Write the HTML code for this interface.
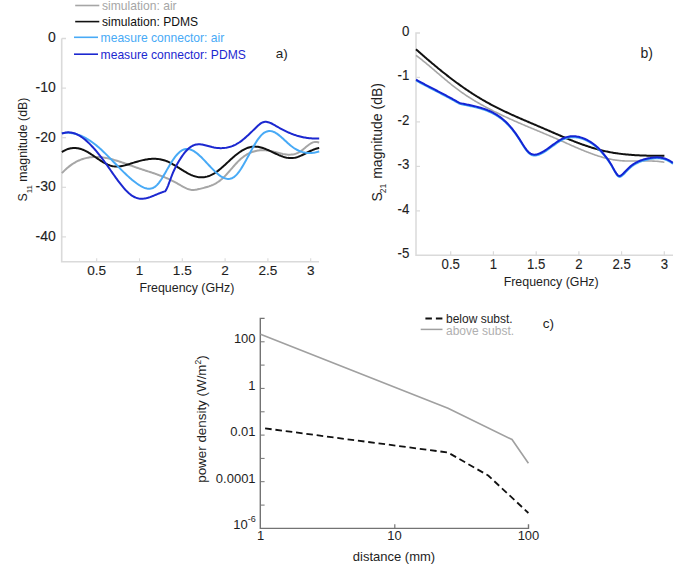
<!DOCTYPE html>
<html><head><meta charset="utf-8"><style>
html,body{margin:0;padding:0;background:#fff;}
body{width:675px;height:567px;overflow:hidden;}
svg{display:block;font-family:"Liberation Sans", sans-serif;}
</style></head><body>
<svg width="675" height="567" viewBox="0 0 675 567">
<path d="M61.7 38.5 H66 M61.7 38.5 V261.8 H319" fill="none" stroke="#dadada" stroke-width="1.6"/>
<path d="M61.7 88.1 H66" stroke="#dadada" stroke-width="1.2"/>
<path d="M61.7 137.7 H66" stroke="#dadada" stroke-width="1.2"/>
<path d="M61.7 187.3 H66" stroke="#dadada" stroke-width="1.2"/>
<path d="M61.7 236.9 H66" stroke="#dadada" stroke-width="1.2"/>
<path d="M96.7 261.8 V258.3" stroke="#dadada" stroke-width="1.1"/>
<path d="M139.5 261.8 V258.3" stroke="#dadada" stroke-width="1.1"/>
<path d="M182.3 261.8 V258.3" stroke="#dadada" stroke-width="1.1"/>
<path d="M225.1 261.8 V258.3" stroke="#dadada" stroke-width="1.1"/>
<path d="M267.9 261.8 V258.3" stroke="#dadada" stroke-width="1.1"/>
<path d="M310.7 261.8 V258.3" stroke="#dadada" stroke-width="1.1"/>
<text x="55.8" y="42.4" font-size="14" text-anchor="end" fill="#1e1e1e" stroke="#1e1e1e" stroke-width="0.12">0</text>
<text x="55.8" y="92.0" font-size="14" text-anchor="end" fill="#1e1e1e" stroke="#1e1e1e" stroke-width="0.12">-10</text>
<text x="55.8" y="141.6" font-size="14" text-anchor="end" fill="#1e1e1e" stroke="#1e1e1e" stroke-width="0.12">-20</text>
<text x="55.8" y="191.2" font-size="14" text-anchor="end" fill="#1e1e1e" stroke="#1e1e1e" stroke-width="0.12">-30</text>
<text x="55.8" y="240.8" font-size="14" text-anchor="end" fill="#1e1e1e" stroke="#1e1e1e" stroke-width="0.12">-40</text>
<text x="96.7" y="274.9" font-size="13.6" text-anchor="middle" fill="#1e1e1e" stroke="#1e1e1e" stroke-width="0.12">0.5</text>
<text x="139.5" y="274.9" font-size="13.6" text-anchor="middle" fill="#1e1e1e" stroke="#1e1e1e" stroke-width="0.12">1</text>
<text x="182.3" y="274.9" font-size="13.6" text-anchor="middle" fill="#1e1e1e" stroke="#1e1e1e" stroke-width="0.12">1.5</text>
<text x="225.1" y="274.9" font-size="13.6" text-anchor="middle" fill="#1e1e1e" stroke="#1e1e1e" stroke-width="0.12">2</text>
<text x="267.9" y="274.9" font-size="13.6" text-anchor="middle" fill="#1e1e1e" stroke="#1e1e1e" stroke-width="0.12">2.5</text>
<text x="310.7" y="274.9" font-size="13.6" text-anchor="middle" fill="#1e1e1e" stroke="#1e1e1e" stroke-width="0.12">3</text>
<text x="186.9" y="291.7" font-size="12.4" text-anchor="middle" fill="#1e1e1e" >Frequency (GHz)</text>
<text transform="translate(26.9 201.5) rotate(-90)" font-size="12.3" fill="#1e1e1e">S<tspan font-size="7.8" dy="5.0">11</tspan><tspan dy="-5.0"> magnitude (dB)</tspan></text>
<path d="M75.2 5.5 H99.3" stroke="#a6a6a6" stroke-width="1.6"/>
<text x="102.0" y="10.1" font-size="12.1" text-anchor="start" fill="#a6a6a6" >simulation: air</text>
<path d="M75.2 21.6 H99.3" stroke="#111111" stroke-width="1.6"/>
<text x="102.0" y="26.1" font-size="12.1" text-anchor="start" fill="#111111" >simulation: PDMS</text>
<path d="M74.0 37.3 H98.0" stroke="#48aaf6" stroke-width="1.6"/>
<text x="100.6" y="42.1" font-size="12.1" text-anchor="start" fill="#48aaf6" >measure connector: air</text>
<path d="M74.0 54.2 H98.0" stroke="#1c28d0" stroke-width="1.6"/>
<text x="100.6" y="58.6" font-size="12.1" text-anchor="start" fill="#1c28d0" >measure connector: PDMS</text>
<text x="275.8" y="58.2" font-size="13.5" text-anchor="start" fill="#1e1e1e" >a)</text>
<path d="M61.90 173.16 L62.90 172.11 L63.90 171.10 L64.90 170.13 L65.90 169.19 L66.90 168.30 L67.90 167.45 L68.90 166.64 L69.90 165.86 L70.90 165.12 L71.90 164.42 L72.90 163.76 L73.90 163.12 L74.90 162.53 L75.90 161.97 L76.90 161.44 L77.90 160.95 L78.90 160.48 L79.90 160.05 L80.90 159.65 L81.90 159.28 L82.90 158.95 L83.90 158.64 L84.90 158.35 L85.90 158.10 L86.90 157.88 L87.90 157.68 L88.90 157.50 L89.90 157.35 L90.90 157.23 L91.90 157.13 L92.90 157.06 L93.90 157.01 L94.90 156.98 L95.90 156.97 L96.90 156.98 L97.90 157.02 L98.90 157.07 L99.90 157.14 L100.90 157.24 L101.90 157.34 L102.90 157.47 L103.90 157.62 L104.90 157.78 L105.90 157.95 L106.90 158.14 L107.90 158.35 L108.90 158.57 L109.90 158.80 L110.90 159.04 L111.90 159.30 L112.90 159.56 L113.90 159.84 L114.90 160.13 L115.90 160.42 L116.90 160.73 L117.90 161.04 L118.90 161.36 L119.90 161.69 L120.90 162.03 L121.90 162.37 L122.90 162.71 L123.90 163.06 L124.90 163.41 L125.90 163.77 L126.90 164.13 L127.90 164.49 L128.90 164.85 L129.90 165.21 L130.90 165.57 L131.90 165.93 L132.90 166.29 L133.90 166.65 L134.90 167.00 L135.90 167.36 L136.90 167.71 L137.90 168.05 L138.90 168.39 L139.90 168.73 L140.90 169.06 L141.90 169.39 L142.90 169.72 L143.90 170.04 L144.90 170.37 L145.90 170.69 L146.90 171.01 L147.90 171.34 L148.90 171.66 L149.90 171.99 L150.90 172.32 L151.90 172.65 L152.90 172.98 L153.90 173.32 L154.90 173.66 L155.90 174.01 L156.90 174.36 L157.90 174.71 L158.90 175.07 L159.90 175.44 L160.90 175.82 L161.90 176.20 L162.90 176.59 L163.90 176.99 L164.90 177.40 L165.90 177.82 L166.90 178.24 L167.90 178.68 L168.90 179.13 L169.90 179.59 L170.90 180.07 L171.90 180.55 L172.90 181.05 L173.90 181.57 L174.90 182.09 L175.90 182.64 L176.90 183.19 L177.90 183.76 L178.90 184.34 L179.90 184.93 L180.90 185.50 L181.90 186.07 L182.90 186.63 L183.90 187.16 L184.90 187.66 L185.90 188.13 L186.90 188.56 L187.90 188.94 L188.90 189.27 L189.90 189.55 L190.90 189.75 L191.90 189.89 L192.90 189.95 L193.90 189.94 L194.90 189.86 L195.90 189.72 L196.90 189.54 L197.90 189.32 L198.90 189.09 L199.90 188.85 L200.90 188.60 L201.90 188.36 L202.90 188.11 L203.90 187.85 L204.90 187.59 L205.90 187.31 L206.90 187.02 L207.90 186.71 L208.90 186.38 L209.90 186.02 L210.90 185.64 L211.90 185.23 L212.90 184.80 L213.90 184.32 L214.90 183.81 L215.90 183.26 L216.90 182.67 L217.90 182.04 L218.90 181.35 L219.90 180.62 L220.90 179.83 L221.90 178.99 L222.90 178.09 L223.90 177.13 L224.90 176.13 L225.90 175.09 L226.90 174.01 L227.90 172.90 L228.90 171.77 L229.90 170.62 L230.90 169.46 L231.90 168.30 L232.90 167.15 L233.90 166.01 L234.90 164.88 L235.90 163.77 L236.90 162.70 L237.90 161.66 L238.90 160.66 L239.90 159.71 L240.90 158.82 L241.90 157.97 L242.90 157.18 L243.90 156.43 L244.90 155.74 L245.90 155.09 L246.90 154.48 L247.90 153.92 L248.90 153.40 L249.90 152.93 L250.90 152.50 L251.90 152.11 L252.90 151.76 L253.90 151.45 L254.90 151.17 L255.90 150.93 L256.90 150.73 L257.90 150.57 L258.90 150.43 L259.90 150.33 L260.90 150.27 L261.90 150.23 L262.90 150.22 L263.90 150.24 L264.90 150.29 L265.90 150.37 L266.90 150.47 L267.90 150.60 L268.90 150.75 L269.90 150.92 L270.90 151.12 L271.90 151.33 L272.90 151.56 L273.90 151.80 L274.90 152.05 L275.90 152.31 L276.90 152.56 L277.90 152.82 L278.90 153.07 L279.90 153.32 L280.90 153.55 L281.90 153.77 L282.90 153.98 L283.90 154.16 L284.90 154.32 L285.90 154.46 L286.90 154.56 L287.90 154.64 L288.90 154.67 L289.90 154.67 L290.90 154.62 L291.90 154.53 L292.90 154.39 L293.90 154.20 L294.90 153.95 L295.90 153.65 L296.90 153.28 L297.90 152.85 L298.90 152.34 L299.90 151.77 L300.90 151.13 L301.90 150.41 L302.90 149.63 L303.90 148.81 L304.90 147.96 L305.90 147.11 L306.90 146.27 L307.90 145.46 L308.90 144.69 L309.90 143.98 L310.90 143.35 L311.90 142.82 L312.90 142.40 L313.90 142.11 L314.90 141.96 L315.90 141.95 L316.90 142.05 L317.90 142.22 L318.90 142.43 L319.20 142.50" fill="none" stroke="#a6a6a6" stroke-width="2"/>
<path d="M61.90 152.09 L62.90 151.45 L63.90 150.86 L64.90 150.33 L65.90 149.85 L66.90 149.43 L67.90 149.07 L68.90 148.76 L69.90 148.51 L70.90 148.31 L71.90 148.16 L72.90 148.06 L73.90 148.01 L74.90 148.01 L75.90 148.06 L76.90 148.16 L77.90 148.31 L78.90 148.51 L79.90 148.75 L80.90 149.03 L81.90 149.37 L82.90 149.74 L83.90 150.16 L84.90 150.62 L85.90 151.12 L86.90 151.66 L87.90 152.23 L88.90 152.82 L89.90 153.44 L90.90 154.09 L91.90 154.74 L92.90 155.41 L93.90 156.09 L94.90 156.78 L95.90 157.46 L96.90 158.15 L97.90 158.83 L98.90 159.50 L99.90 160.15 L100.90 160.80 L101.90 161.42 L102.90 162.03 L103.90 162.61 L104.90 163.16 L105.90 163.69 L106.90 164.17 L107.90 164.63 L108.90 165.04 L109.90 165.41 L110.90 165.73 L111.90 166.00 L112.90 166.22 L113.90 166.38 L114.90 166.49 L115.90 166.55 L116.90 166.57 L117.90 166.54 L118.90 166.47 L119.90 166.36 L120.90 166.21 L121.90 166.03 L122.90 165.83 L123.90 165.60 L124.90 165.35 L125.90 165.08 L126.90 164.79 L127.90 164.49 L128.90 164.18 L129.90 163.87 L130.90 163.55 L131.90 163.23 L132.90 162.91 L133.90 162.60 L134.90 162.30 L135.90 162.00 L136.90 161.70 L137.90 161.42 L138.90 161.14 L139.90 160.88 L140.90 160.62 L141.90 160.38 L142.90 160.15 L143.90 159.94 L144.90 159.74 L145.90 159.55 L146.90 159.39 L147.90 159.24 L148.90 159.11 L149.90 159.01 L150.90 158.92 L151.90 158.86 L152.90 158.82 L153.90 158.80 L154.90 158.81 L155.90 158.84 L156.90 158.91 L157.90 159.00 L158.90 159.12 L159.90 159.27 L160.90 159.45 L161.90 159.67 L162.90 159.92 L163.90 160.20 L164.90 160.52 L165.90 160.87 L166.90 161.26 L167.90 161.69 L168.90 162.15 L169.90 162.64 L170.90 163.16 L171.90 163.70 L172.90 164.26 L173.90 164.84 L174.90 165.43 L175.90 166.04 L176.90 166.66 L177.90 167.28 L178.90 167.91 L179.90 168.54 L180.90 169.17 L181.90 169.80 L182.90 170.42 L183.90 171.03 L184.90 171.63 L185.90 172.21 L186.90 172.77 L187.90 173.32 L188.90 173.84 L189.90 174.33 L190.90 174.80 L191.90 175.24 L192.90 175.64 L193.90 176.00 L194.90 176.32 L195.90 176.60 L196.90 176.84 L197.90 177.03 L198.90 177.17 L199.90 177.26 L200.90 177.31 L201.90 177.31 L202.90 177.27 L203.90 177.18 L204.90 177.04 L205.90 176.85 L206.90 176.61 L207.90 176.33 L208.90 176.00 L209.90 175.62 L210.90 175.19 L211.90 174.72 L212.90 174.20 L213.90 173.63 L214.90 173.01 L215.90 172.34 L216.90 171.63 L217.90 170.89 L218.90 170.10 L219.90 169.29 L220.90 168.45 L221.90 167.59 L222.90 166.70 L223.90 165.80 L224.90 164.89 L225.90 163.97 L226.90 163.04 L227.90 162.11 L228.90 161.18 L229.90 160.25 L230.90 159.34 L231.90 158.44 L232.90 157.55 L233.90 156.69 L234.90 155.85 L235.90 155.03 L236.90 154.23 L237.90 153.46 L238.90 152.73 L239.90 152.02 L240.90 151.35 L241.90 150.72 L242.90 150.12 L243.90 149.56 L244.90 149.04 L245.90 148.57 L246.90 148.15 L247.90 147.77 L248.90 147.44 L249.90 147.17 L250.90 146.95 L251.90 146.78 L252.90 146.67 L253.90 146.61 L254.90 146.60 L255.90 146.64 L256.90 146.72 L257.90 146.85 L258.90 147.02 L259.90 147.23 L260.90 147.47 L261.90 147.75 L262.90 148.06 L263.90 148.40 L264.90 148.77 L265.90 149.16 L266.90 149.57 L267.90 150.00 L268.90 150.45 L269.90 150.90 L270.90 151.37 L271.90 151.84 L272.90 152.32 L273.90 152.79 L274.90 153.27 L275.90 153.73 L276.90 154.19 L277.90 154.64 L278.90 155.08 L279.90 155.49 L280.90 155.89 L281.90 156.26 L282.90 156.61 L283.90 156.93 L284.90 157.22 L285.90 157.47 L286.90 157.68 L287.90 157.86 L288.90 157.99 L289.90 158.07 L290.90 158.10 L291.90 158.08 L292.90 158.01 L293.90 157.88 L294.90 157.69 L295.90 157.46 L296.90 157.18 L297.90 156.85 L298.90 156.49 L299.90 156.09 L300.90 155.67 L301.90 155.22 L302.90 154.75 L303.90 154.27 L304.90 153.77 L305.90 153.26 L306.90 152.75 L307.90 152.25 L308.90 151.74 L309.90 151.25 L310.90 150.77 L311.90 150.31 L312.90 149.87 L313.90 149.46 L314.90 149.08 L315.90 148.73 L316.90 148.42 L317.90 148.16 L318.90 147.94 L319.20 147.88" fill="none" stroke="#111111" stroke-width="2"/>
<path d="M61.90 133.28 L62.90 133.12 L63.90 132.99 L64.90 132.89 L65.90 132.83 L66.90 132.81 L67.90 132.81 L68.90 132.85 L69.90 132.92 L70.90 133.03 L71.90 133.16 L72.90 133.33 L73.90 133.53 L74.90 133.76 L75.90 134.01 L76.90 134.30 L77.90 134.62 L78.90 134.97 L79.90 135.35 L80.90 135.75 L81.90 136.19 L82.90 136.65 L83.90 137.14 L84.90 137.66 L85.90 138.20 L86.90 138.78 L87.90 139.37 L88.90 140.00 L89.90 140.65 L90.90 141.32 L91.90 142.02 L92.90 142.74 L93.90 143.49 L94.90 144.26 L95.90 145.06 L96.90 145.88 L97.90 146.72 L98.90 147.58 L99.90 148.46 L100.90 149.36 L101.90 150.28 L102.90 151.22 L103.90 152.17 L104.90 153.13 L105.90 154.11 L106.90 155.10 L107.90 156.09 L108.90 157.10 L109.90 158.11 L110.90 159.13 L111.90 160.16 L112.90 161.18 L113.90 162.21 L114.90 163.24 L115.90 164.27 L116.90 165.30 L117.90 166.33 L118.90 167.35 L119.90 168.36 L120.90 169.37 L121.90 170.37 L122.90 171.36 L123.90 172.34 L124.90 173.31 L125.90 174.27 L126.90 175.21 L127.90 176.13 L128.90 177.04 L129.90 177.93 L130.90 178.80 L131.90 179.65 L132.90 180.47 L133.90 181.27 L134.90 182.05 L135.90 182.80 L136.90 183.53 L137.90 184.22 L138.90 184.89 L139.90 185.52 L140.90 186.12 L141.90 186.67 L142.90 187.18 L143.90 187.63 L144.90 188.01 L145.90 188.33 L146.90 188.57 L147.90 188.72 L148.90 188.78 L149.90 188.74 L150.90 188.60 L151.90 188.34 L152.90 187.96 L153.90 187.46 L154.90 186.82 L155.90 186.04 L156.90 185.11 L157.90 184.03 L158.90 182.80 L159.90 181.45 L160.90 179.99 L161.90 178.44 L162.90 176.81 L163.90 175.13 L164.90 173.40 L165.90 171.64 L166.90 169.88 L167.90 168.13 L168.90 166.40 L169.90 164.71 L170.90 163.08 L171.90 161.51 L172.90 160.01 L173.90 158.58 L174.90 157.23 L175.90 155.96 L176.90 154.78 L177.90 153.69 L178.90 152.70 L179.90 151.82 L180.90 151.05 L181.90 150.40 L182.90 149.86 L183.90 149.46 L184.90 149.17 L185.90 149.00 L186.90 148.95 L187.90 148.99 L188.90 149.14 L189.90 149.39 L190.90 149.72 L191.90 150.14 L192.90 150.64 L193.90 151.21 L194.90 151.85 L195.90 152.56 L196.90 153.32 L197.90 154.14 L198.90 155.00 L199.90 155.91 L200.90 156.85 L201.90 157.83 L202.90 158.84 L203.90 159.87 L204.90 160.92 L205.90 161.99 L206.90 163.06 L207.90 164.14 L208.90 165.21 L209.90 166.28 L210.90 167.34 L211.90 168.39 L212.90 169.41 L213.90 170.41 L214.90 171.38 L215.90 172.32 L216.90 173.21 L217.90 174.07 L218.90 174.87 L219.90 175.62 L220.90 176.30 L221.90 176.92 L222.90 177.47 L223.90 177.95 L224.90 178.33 L225.90 178.63 L226.90 178.83 L227.90 178.94 L228.90 178.93 L229.90 178.81 L230.90 178.57 L231.90 178.21 L232.90 177.72 L233.90 177.09 L234.90 176.32 L235.90 175.40 L236.90 174.34 L237.90 173.17 L238.90 171.87 L239.90 170.47 L240.90 168.98 L241.90 167.40 L242.90 165.75 L243.90 164.04 L244.90 162.28 L245.90 160.47 L246.90 158.64 L247.90 156.78 L248.90 154.92 L249.90 153.06 L250.90 151.20 L251.90 149.37 L252.90 147.57 L253.90 145.82 L254.90 144.12 L255.90 142.48 L256.90 140.92 L257.90 139.44 L258.90 138.06 L259.90 136.79 L260.90 135.63 L261.90 134.60 L262.90 133.70 L263.90 132.94 L264.90 132.32 L265.90 131.82 L266.90 131.45 L267.90 131.19 L268.90 131.06 L269.90 131.03 L270.90 131.12 L271.90 131.31 L272.90 131.60 L273.90 131.99 L274.90 132.47 L275.90 133.03 L276.90 133.66 L277.90 134.36 L278.90 135.11 L279.90 135.92 L280.90 136.77 L281.90 137.65 L282.90 138.55 L283.90 139.47 L284.90 140.41 L285.90 141.34 L286.90 142.27 L287.90 143.19 L288.90 144.08 L289.90 144.94 L290.90 145.77 L291.90 146.55 L292.90 147.28 L293.90 147.97 L294.90 148.61 L295.90 149.20 L296.90 149.75 L297.90 150.26 L298.90 150.72 L299.90 151.14 L300.90 151.51 L301.90 151.85 L302.90 152.14 L303.90 152.38 L304.90 152.59 L305.90 152.76 L306.90 152.89 L307.90 152.98 L308.90 153.02 L309.90 153.03 L310.90 153.01 L311.90 152.94 L312.90 152.84 L313.90 152.70 L314.90 152.52 L315.90 152.31 L316.90 152.07 L317.90 151.79 L318.90 151.47 L319.20 151.37" fill="none" stroke="#48aaf6" stroke-width="2"/>
<path d="M61.90 133.70 L62.90 133.26 L63.90 132.94 L64.90 132.69 L65.90 132.51 L66.90 132.39 L67.90 132.33 L68.90 132.33 L69.90 132.39 L70.90 132.50 L71.90 132.68 L72.90 132.91 L73.90 133.19 L74.90 133.53 L75.90 133.91 L76.90 134.35 L77.90 134.84 L78.90 135.38 L79.90 135.96 L80.90 136.59 L81.90 137.27 L82.90 137.98 L83.90 138.74 L84.90 139.54 L85.90 140.38 L86.90 141.26 L87.90 142.18 L88.90 143.13 L89.90 144.12 L90.90 145.14 L91.90 146.19 L92.90 147.27 L93.90 148.39 L94.90 149.53 L95.90 150.70 L96.90 151.90 L97.90 153.12 L98.90 154.36 L99.90 155.63 L100.90 156.92 L101.90 158.23 L102.90 159.56 L103.90 160.91 L104.90 162.27 L105.90 163.65 L106.90 165.04 L107.90 166.45 L108.90 167.86 L109.90 169.29 L110.90 170.72 L111.90 172.15 L112.90 173.57 L113.90 174.99 L114.90 176.41 L115.90 177.80 L116.90 179.19 L117.90 180.55 L118.90 181.89 L119.90 183.20 L120.90 184.48 L121.90 185.73 L122.90 186.94 L123.90 188.11 L124.90 189.24 L125.90 190.31 L126.90 191.34 L127.90 192.31 L128.90 193.22 L129.90 194.07 L130.90 194.85 L131.90 195.56 L132.90 196.20 L133.90 196.76 L134.90 197.26 L135.90 197.68 L136.90 198.02 L137.90 198.30 L138.90 198.50 L139.90 198.64 L140.90 198.71 L141.90 198.72 L142.90 198.68 L143.90 198.58 L144.90 198.44 L145.90 198.25 L146.90 198.02 L147.90 197.76 L148.90 197.46 L149.90 197.14 L150.90 196.79 L151.90 196.41 L152.90 196.02 L153.90 195.62 L154.90 195.20 L155.90 194.78 L156.90 194.36 L157.90 193.94 L158.90 193.53 L159.90 193.12 L160.90 192.73 L161.90 192.35 L162.90 192.00 L163.90 191.66 L164.90 191.36 L165.10 191.30 L166.10 189.94 L167.10 187.94 L168.10 185.58 L169.10 182.98 L170.10 180.26 L171.10 177.52 L172.10 174.89 L173.10 172.45 L174.10 170.22 L175.10 168.14 L176.10 166.19 L177.10 164.33 L178.10 162.55 L179.10 160.84 L180.10 159.20 L181.10 157.64 L182.10 156.15 L183.10 154.75 L184.10 153.43 L185.10 152.19 L186.10 151.03 L187.10 149.97 L188.10 148.99 L189.10 148.10 L190.10 147.31 L191.10 146.61 L192.10 146.00 L193.10 145.49 L194.10 145.08 L195.10 144.77 L196.10 144.53 L197.10 144.38 L198.10 144.29 L199.10 144.27 L200.10 144.32 L201.10 144.41 L202.10 144.55 L203.10 144.73 L204.10 144.94 L205.10 145.18 L206.10 145.44 L207.10 145.71 L208.10 146.00 L209.10 146.28 L210.10 146.55 L211.10 146.82 L212.10 147.07 L213.10 147.29 L214.10 147.49 L215.10 147.66 L216.10 147.81 L217.10 147.93 L218.10 148.03 L219.10 148.09 L220.10 148.13 L221.10 148.14 L222.10 148.12 L223.10 148.07 L224.10 147.99 L225.10 147.87 L226.10 147.72 L227.10 147.54 L228.10 147.33 L229.10 147.08 L230.10 146.79 L231.10 146.47 L232.10 146.11 L233.10 145.71 L234.10 145.28 L235.10 144.80 L236.10 144.29 L237.10 143.73 L238.10 143.14 L239.10 142.50 L240.10 141.82 L241.10 141.10 L242.10 140.34 L243.10 139.54 L244.10 138.72 L245.10 137.87 L246.10 136.99 L247.10 136.09 L248.10 135.17 L249.10 134.23 L250.10 133.28 L251.10 132.32 L252.10 131.35 L253.10 130.38 L254.10 129.41 L255.10 128.44 L256.10 127.47 L257.10 126.52 L258.10 125.58 L259.10 124.70 L260.10 123.90 L261.10 123.20 L262.10 122.64 L263.10 122.24 L264.10 121.97 L265.10 121.85 L266.10 121.85 L267.10 121.95 L268.10 122.16 L269.10 122.46 L270.10 122.83 L271.10 123.27 L272.10 123.76 L273.10 124.30 L274.10 124.86 L275.10 125.44 L276.10 126.03 L277.10 126.62 L278.10 127.19 L279.10 127.75 L280.10 128.31 L281.10 128.85 L282.10 129.38 L283.10 129.90 L284.10 130.41 L285.10 130.90 L286.10 131.38 L287.10 131.85 L288.10 132.30 L289.10 132.74 L290.10 133.17 L291.10 133.58 L292.10 133.97 L293.10 134.35 L294.10 134.72 L295.10 135.06 L296.10 135.39 L297.10 135.71 L298.10 136.00 L299.10 136.28 L300.10 136.54 L301.10 136.79 L302.10 137.02 L303.10 137.23 L304.10 137.42 L305.10 137.60 L306.10 137.76 L307.10 137.91 L308.10 138.04 L309.10 138.15 L310.10 138.24 L311.10 138.32 L312.10 138.39 L313.10 138.44 L314.10 138.47 L315.10 138.49 L316.10 138.49 L317.10 138.48 L318.10 138.45 L319.10 138.40 L319.20 138.40" fill="none" stroke="#1c28d0" stroke-width="2"/>
<path d="M420 32.9 H416 V255.3 H673" fill="none" stroke="#dadada" stroke-width="1.5"/>
<path d="M416 77.4 H420" stroke="#dadada" stroke-width="1.2"/>
<path d="M416 121.9 H420" stroke="#dadada" stroke-width="1.2"/>
<path d="M416 166.4 H420" stroke="#dadada" stroke-width="1.2"/>
<path d="M416 210.9 H420" stroke="#dadada" stroke-width="1.2"/>
<path d="M450.7 255.3 V251.3" stroke="#dadada" stroke-width="1.2"/>
<path d="M493.4 255.3 V251.3" stroke="#dadada" stroke-width="1.2"/>
<path d="M536.2 255.3 V251.3" stroke="#dadada" stroke-width="1.2"/>
<path d="M578.9 255.3 V251.3" stroke="#dadada" stroke-width="1.2"/>
<path d="M621.6 255.3 V251.3" stroke="#dadada" stroke-width="1.2"/>
<path d="M664.3 255.3 V251.3" stroke="#dadada" stroke-width="1.2"/>
<text transform="translate(409.40 35.90) scale(1 1.120)" font-size="13.3" text-anchor="end" fill="#1e1e1e" stroke="#1e1e1e" stroke-width="0.1">0</text>
<text transform="translate(409.40 80.40) scale(1 1.120)" font-size="13.3" text-anchor="end" fill="#1e1e1e" stroke="#1e1e1e" stroke-width="0.1">-1</text>
<text transform="translate(409.40 124.90) scale(1 1.120)" font-size="13.3" text-anchor="end" fill="#1e1e1e" stroke="#1e1e1e" stroke-width="0.1">-2</text>
<text transform="translate(409.40 169.40) scale(1 1.120)" font-size="13.3" text-anchor="end" fill="#1e1e1e" stroke="#1e1e1e" stroke-width="0.1">-3</text>
<text transform="translate(409.40 213.90) scale(1 1.120)" font-size="13.3" text-anchor="end" fill="#1e1e1e" stroke="#1e1e1e" stroke-width="0.1">-4</text>
<text transform="translate(409.40 258.40) scale(1 1.120)" font-size="13.3" text-anchor="end" fill="#1e1e1e" stroke="#1e1e1e" stroke-width="0.1">-5</text>
<text transform="translate(450.72 269.00) scale(1 1.140)" font-size="13.2" text-anchor="middle" fill="#1e1e1e" stroke="#1e1e1e" stroke-width="0.1">0.5</text>
<text transform="translate(493.44 269.00) scale(1 1.140)" font-size="13.2" text-anchor="middle" fill="#1e1e1e" stroke="#1e1e1e" stroke-width="0.1">1</text>
<text transform="translate(536.16 269.00) scale(1 1.140)" font-size="13.2" text-anchor="middle" fill="#1e1e1e" stroke="#1e1e1e" stroke-width="0.1">1.5</text>
<text transform="translate(578.88 269.00) scale(1 1.140)" font-size="13.2" text-anchor="middle" fill="#1e1e1e" stroke="#1e1e1e" stroke-width="0.1">2</text>
<text transform="translate(621.60 269.00) scale(1 1.140)" font-size="13.2" text-anchor="middle" fill="#1e1e1e" stroke="#1e1e1e" stroke-width="0.1">2.5</text>
<text transform="translate(664.32 269.00) scale(1 1.140)" font-size="13.2" text-anchor="middle" fill="#1e1e1e" stroke="#1e1e1e" stroke-width="0.1">3</text>
<text x="551.2" y="286.1" font-size="12.4" text-anchor="middle" fill="#1e1e1e" >Frequency (GHz)</text>
<text transform="translate(382.2 201.5) rotate(-90)" font-size="14" fill="#1e1e1e">S<tspan font-size="8.5" dy="4" dx="-1">21</tspan><tspan dy="-4" dx="1"> magnitude (dB)</tspan></text>
<text x="640.5" y="58.2" font-size="14" text-anchor="start" fill="#1e1e1e" >b)</text>
<path d="M416.00 55.32 L417.00 56.07 L418.00 56.84 L419.00 57.61 L420.00 58.39 L421.00 59.18 L422.00 59.97 L423.00 60.78 L424.00 61.59 L425.00 62.41 L426.00 63.23 L427.00 64.06 L428.00 64.89 L429.00 65.73 L430.00 66.57 L431.00 67.41 L432.00 68.26 L433.00 69.11 L434.00 69.96 L435.00 70.82 L436.00 71.67 L437.00 72.52 L438.00 73.38 L439.00 74.23 L440.00 75.08 L441.00 75.93 L442.00 76.78 L443.00 77.63 L444.00 78.47 L445.00 79.31 L446.00 80.15 L447.00 80.98 L448.00 81.80 L449.00 82.62 L450.00 83.44 L451.00 84.25 L452.00 85.05 L453.00 85.84 L454.00 86.62 L455.00 87.40 L456.00 88.17 L457.00 88.93 L458.00 89.67 L459.00 90.41 L460.00 91.14 L461.00 91.86 L462.00 92.57 L463.00 93.26 L464.00 93.95 L465.00 94.63 L466.00 95.31 L467.00 95.97 L468.00 96.62 L469.00 97.27 L470.00 97.91 L471.00 98.54 L472.00 99.16 L473.00 99.78 L474.00 100.38 L475.00 100.98 L476.00 101.58 L477.00 102.17 L478.00 102.75 L479.00 103.32 L480.00 103.89 L481.00 104.46 L482.00 105.02 L483.00 105.57 L484.00 106.12 L485.00 106.66 L486.00 107.20 L487.00 107.73 L488.00 108.26 L489.00 108.79 L490.00 109.31 L491.00 109.82 L492.00 110.33 L493.00 110.84 L494.00 111.35 L495.00 111.85 L496.00 112.34 L497.00 112.83 L498.00 113.32 L499.00 113.81 L500.00 114.29 L501.00 114.77 L502.00 115.24 L503.00 115.71 L504.00 116.18 L505.00 116.65 L506.00 117.11 L507.00 117.57 L508.00 118.03 L509.00 118.48 L510.00 118.94 L511.00 119.39 L512.00 119.83 L513.00 120.28 L514.00 120.72 L515.00 121.16 L516.00 121.60 L517.00 122.04 L518.00 122.47 L519.00 122.91 L520.00 123.34 L521.00 123.77 L522.00 124.20 L523.00 124.63 L524.00 125.05 L525.00 125.48 L526.00 125.90 L527.00 126.32 L528.00 126.75 L529.00 127.17 L530.00 127.59 L531.00 128.01 L532.00 128.43 L533.00 128.85 L534.00 129.26 L535.00 129.68 L536.00 130.10 L537.00 130.52 L538.00 130.94 L539.00 131.35 L540.00 131.77 L541.00 132.19 L542.00 132.61 L543.00 133.03 L544.00 133.45 L545.00 133.87 L546.00 134.29 L547.00 134.71 L548.00 135.13 L549.00 135.56 L550.00 135.98 L551.00 136.41 L552.00 136.84 L553.00 137.27 L554.00 137.70 L555.00 138.13 L556.00 138.56 L557.00 139.00 L558.00 139.43 L559.00 139.87 L560.00 140.31 L561.00 140.76 L562.00 141.20 L563.00 141.64 L564.00 142.09 L565.00 142.53 L566.00 142.98 L567.00 143.43 L568.00 143.87 L569.00 144.32 L570.00 144.76 L571.00 145.20 L572.00 145.65 L573.00 146.09 L574.00 146.53 L575.00 146.96 L576.00 147.40 L577.00 147.83 L578.00 148.26 L579.00 148.69 L580.00 149.11 L581.00 149.53 L582.00 149.95 L583.00 150.36 L584.00 150.77 L585.00 151.17 L586.00 151.57 L587.00 151.96 L588.00 152.35 L589.00 152.74 L590.00 153.11 L591.00 153.49 L592.00 153.85 L593.00 154.21 L594.00 154.56 L595.00 154.91 L596.00 155.25 L597.00 155.58 L598.00 155.91 L599.00 156.22 L600.00 156.53 L601.00 156.83 L602.00 157.12 L603.00 157.40 L604.00 157.67 L605.00 157.94 L606.00 158.19 L607.00 158.44 L608.00 158.67 L609.00 158.89 L610.00 159.11 L611.00 159.31 L612.00 159.50 L613.00 159.68 L614.00 159.85 L615.00 160.01 L616.00 160.15 L617.00 160.28 L618.00 160.40 L619.00 160.51 L620.00 160.61 L621.00 160.69 L622.00 160.77 L623.00 160.83 L624.00 160.89 L625.00 160.94 L626.00 160.97 L627.00 161.01 L628.00 161.03 L629.00 161.05 L630.00 161.06 L631.00 161.07 L632.00 161.07 L633.00 161.07 L634.00 161.06 L635.00 161.06 L636.00 161.05 L637.00 161.03 L638.00 161.02 L639.00 161.01 L640.00 160.99 L641.00 160.98 L642.00 160.97 L643.00 160.96 L644.00 160.95 L645.00 160.95 L646.00 160.94 L647.00 160.95 L648.00 160.95 L649.00 160.97 L650.00 160.98 L651.00 161.01 L652.00 161.04 L653.00 161.08 L654.00 161.13 L655.00 161.18 L656.00 161.25 L657.00 161.32 L658.00 161.41 L659.00 161.50 L660.00 161.61 L661.00 161.73 L662.00 161.86 L663.00 162.01 L664.00 162.17 L664.40 162.24" fill="none" stroke="#a6a6a6" stroke-width="1.6"/>
<path d="M416.00 49.28 L417.00 50.17 L418.00 51.06 L419.00 51.95 L420.00 52.83 L421.00 53.71 L422.00 54.58 L423.00 55.46 L424.00 56.33 L425.00 57.19 L426.00 58.06 L427.00 58.92 L428.00 59.78 L429.00 60.63 L430.00 61.48 L431.00 62.33 L432.00 63.17 L433.00 64.01 L434.00 64.85 L435.00 65.68 L436.00 66.51 L437.00 67.34 L438.00 68.16 L439.00 68.98 L440.00 69.79 L441.00 70.60 L442.00 71.41 L443.00 72.21 L444.00 73.00 L445.00 73.80 L446.00 74.58 L447.00 75.37 L448.00 76.15 L449.00 76.92 L450.00 77.69 L451.00 78.46 L452.00 79.22 L453.00 79.97 L454.00 80.72 L455.00 81.47 L456.00 82.21 L457.00 82.95 L458.00 83.68 L459.00 84.40 L460.00 85.12 L461.00 85.84 L462.00 86.55 L463.00 87.25 L464.00 87.95 L465.00 88.64 L466.00 89.33 L467.00 90.01 L468.00 90.68 L469.00 91.35 L470.00 92.02 L471.00 92.68 L472.00 93.33 L473.00 93.98 L474.00 94.62 L475.00 95.25 L476.00 95.88 L477.00 96.50 L478.00 97.11 L479.00 97.72 L480.00 98.32 L481.00 98.92 L482.00 99.51 L483.00 100.09 L484.00 100.67 L485.00 101.24 L486.00 101.80 L487.00 102.36 L488.00 102.91 L489.00 103.46 L490.00 104.00 L491.00 104.54 L492.00 105.07 L493.00 105.59 L494.00 106.12 L495.00 106.63 L496.00 107.14 L497.00 107.65 L498.00 108.15 L499.00 108.65 L500.00 109.15 L501.00 109.64 L502.00 110.12 L503.00 110.61 L504.00 111.08 L505.00 111.56 L506.00 112.03 L507.00 112.50 L508.00 112.96 L509.00 113.43 L510.00 113.89 L511.00 114.34 L512.00 114.80 L513.00 115.25 L514.00 115.70 L515.00 116.14 L516.00 116.59 L517.00 117.03 L518.00 117.47 L519.00 117.91 L520.00 118.34 L521.00 118.78 L522.00 119.21 L523.00 119.64 L524.00 120.07 L525.00 120.50 L526.00 120.93 L527.00 121.36 L528.00 121.79 L529.00 122.21 L530.00 122.64 L531.00 123.07 L532.00 123.49 L533.00 123.92 L534.00 124.34 L535.00 124.77 L536.00 125.19 L537.00 125.62 L538.00 126.05 L539.00 126.47 L540.00 126.90 L541.00 127.33 L542.00 127.76 L543.00 128.19 L544.00 128.63 L545.00 129.06 L546.00 129.49 L547.00 129.93 L548.00 130.36 L549.00 130.79 L550.00 131.23 L551.00 131.66 L552.00 132.10 L553.00 132.53 L554.00 132.96 L555.00 133.40 L556.00 133.83 L557.00 134.26 L558.00 134.69 L559.00 135.12 L560.00 135.54 L561.00 135.97 L562.00 136.39 L563.00 136.82 L564.00 137.24 L565.00 137.66 L566.00 138.07 L567.00 138.49 L568.00 138.90 L569.00 139.31 L570.00 139.71 L571.00 140.12 L572.00 140.52 L573.00 140.91 L574.00 141.31 L575.00 141.70 L576.00 142.09 L577.00 142.47 L578.00 142.85 L579.00 143.23 L580.00 143.60 L581.00 143.96 L582.00 144.33 L583.00 144.69 L584.00 145.04 L585.00 145.39 L586.00 145.73 L587.00 146.07 L588.00 146.41 L589.00 146.74 L590.00 147.06 L591.00 147.38 L592.00 147.69 L593.00 148.00 L594.00 148.30 L595.00 148.59 L596.00 148.88 L597.00 149.16 L598.00 149.44 L599.00 149.70 L600.00 149.96 L601.00 150.22 L602.00 150.47 L603.00 150.71 L604.00 150.94 L605.00 151.17 L606.00 151.38 L607.00 151.60 L608.00 151.80 L609.00 152.00 L610.00 152.19 L611.00 152.37 L612.00 152.55 L613.00 152.72 L614.00 152.89 L615.00 153.05 L616.00 153.20 L617.00 153.35 L618.00 153.49 L619.00 153.63 L620.00 153.76 L621.00 153.88 L622.00 154.00 L623.00 154.12 L624.00 154.23 L625.00 154.33 L626.00 154.43 L627.00 154.53 L628.00 154.62 L629.00 154.71 L630.00 154.79 L631.00 154.87 L632.00 154.94 L633.00 155.01 L634.00 155.08 L635.00 155.14 L636.00 155.20 L637.00 155.25 L638.00 155.30 L639.00 155.35 L640.00 155.40 L641.00 155.44 L642.00 155.48 L643.00 155.51 L644.00 155.55 L645.00 155.58 L646.00 155.60 L647.00 155.63 L648.00 155.65 L649.00 155.67 L650.00 155.69 L651.00 155.71 L652.00 155.73 L653.00 155.74 L654.00 155.75 L655.00 155.76 L656.00 155.77 L657.00 155.78 L658.00 155.79 L659.00 155.80 L660.00 155.80 L661.00 155.81 L662.00 155.81 L663.00 155.81 L664.00 155.82 L664.40 155.82" fill="none" stroke="#111111" stroke-width="2"/>
<path d="M416.00 79.70 L417.00 80.24 L418.00 80.78 L419.00 81.32 L420.00 81.86 L421.00 82.39 L422.00 82.92 L423.00 83.45 L424.00 83.98 L425.00 84.51 L426.00 85.03 L427.00 85.56 L428.00 86.08 L429.00 86.60 L430.00 87.12 L431.00 87.64 L432.00 88.16 L433.00 88.68 L434.00 89.20 L435.00 89.72 L436.00 90.24 L437.00 90.76 L438.00 91.28 L439.00 91.80 L440.00 92.32 L441.00 92.84 L442.00 93.37 L443.00 93.89 L444.00 94.42 L445.00 94.95 L446.00 95.48 L447.00 96.02 L448.00 96.55 L449.00 97.09 L450.00 97.63 L451.00 98.18 L452.00 98.73 L453.00 99.28 L454.00 99.83 L455.00 100.39 L456.00 100.95 L457.00 101.52 L458.00 102.09 L459.00 102.66 L459.50 102.90 L460.50 103.19 L461.50 103.41 L462.50 103.62 L463.50 103.83 L464.50 104.03 L465.50 104.24 L466.50 104.44 L467.50 104.65 L468.50 104.85 L469.50 105.06 L470.50 105.27 L471.50 105.49 L472.50 105.71 L473.50 105.93 L474.50 106.16 L475.50 106.40 L476.50 106.65 L477.50 106.91 L478.50 107.17 L479.50 107.45 L480.50 107.74 L481.50 108.04 L482.50 108.36 L483.50 108.68 L484.50 109.03 L485.50 109.39 L486.50 109.77 L487.50 110.17 L488.50 110.58 L489.50 111.02 L490.50 111.47 L491.50 111.95 L492.50 112.45 L493.50 112.97 L494.50 113.52 L495.50 114.09 L496.50 114.69 L497.50 115.31 L498.50 115.97 L499.50 116.66 L500.50 117.38 L501.50 118.14 L502.50 118.93 L503.50 119.77 L504.50 120.64 L505.50 121.56 L506.50 122.52 L507.50 123.52 L508.50 124.57 L509.50 125.67 L510.50 126.81 L511.50 128.00 L512.50 129.23 L513.50 130.51 L514.50 131.83 L515.50 133.20 L516.50 134.62 L517.50 136.08 L518.50 137.58 L519.50 139.14 L520.50 140.73 L521.50 142.34 L522.50 143.94 L523.50 145.52 L524.50 147.03 L525.50 148.47 L526.50 149.80 L527.50 150.99 L528.50 152.04 L529.50 152.90 L530.50 153.57 L531.50 154.06 L532.50 154.40 L533.50 154.58 L534.50 154.64 L535.50 154.57 L536.50 154.41 L537.50 154.15 L538.50 153.82 L539.50 153.43 L540.50 152.99 L541.50 152.50 L542.50 151.96 L543.50 151.39 L544.50 150.78 L545.50 150.14 L546.50 149.47 L547.50 148.78 L548.50 148.08 L549.50 147.35 L550.50 146.62 L551.50 145.89 L552.50 145.15 L553.50 144.42 L554.50 143.69 L555.50 142.98 L556.50 142.28 L557.50 141.61 L558.50 140.96 L559.50 140.33 L560.50 139.75 L561.50 139.20 L562.50 138.69 L563.50 138.23 L564.50 137.82 L565.50 137.46 L566.50 137.14 L567.50 136.88 L568.50 136.66 L569.50 136.49 L570.50 136.36 L571.50 136.27 L572.50 136.23 L573.50 136.24 L574.50 136.28 L575.50 136.36 L576.50 136.49 L577.50 136.65 L578.50 136.85 L579.50 137.08 L580.50 137.36 L581.50 137.66 L582.50 138.01 L583.50 138.38 L584.50 138.79 L585.50 139.23 L586.50 139.70 L587.50 140.21 L588.50 140.75 L589.50 141.32 L590.50 141.93 L591.50 142.58 L592.50 143.27 L593.50 144.00 L594.50 144.78 L595.50 145.59 L596.50 146.45 L597.50 147.36 L598.50 148.31 L599.50 149.31 L600.50 150.35 L601.50 151.45 L602.50 152.60 L603.50 153.79 L604.50 155.03 L605.50 156.30 L606.50 157.61 L607.50 158.96 L608.50 160.37 L609.50 161.86 L610.50 163.43 L611.50 165.11 L612.50 166.88 L613.50 168.68 L614.50 170.46 L615.50 172.14 L616.50 173.68 L617.50 174.93 L618.50 175.75 L619.50 176.00 L620.50 175.72 L621.50 175.07 L622.50 174.22 L623.50 173.28 L624.50 172.28 L625.50 171.25 L626.50 170.21 L627.50 169.18 L628.50 168.19 L629.50 167.25 L630.50 166.38 L631.50 165.57 L632.50 164.82 L633.50 164.12 L634.50 163.48 L635.50 162.88 L636.50 162.34 L637.50 161.84 L638.50 161.37 L639.50 160.95 L640.50 160.56 L641.50 160.20 L642.50 159.87 L643.50 159.57 L644.50 159.29 L645.50 159.03 L646.50 158.78 L647.50 158.55 L648.50 158.33 L649.50 158.13 L650.50 157.95 L651.50 157.79 L652.50 157.65 L653.50 157.54 L654.50 157.45 L655.50 157.39 L656.50 157.36 L657.50 157.36 L658.50 157.40 L659.50 157.47 L660.50 157.59 L661.50 157.74 L662.50 157.94 L663.50 158.18 L664.50 158.46 L665.50 158.80 L666.50 159.18 L667.50 159.62 L668.50 160.11 L669.50 160.66 L670.50 161.27 L671.50 161.94 L672.50 162.67 L672.80 162.80" fill="none" stroke="#48aaf6" stroke-width="2" transform="translate(0.2 0.9)"/>
<path d="M416.00 79.70 L417.00 80.24 L418.00 80.78 L419.00 81.32 L420.00 81.86 L421.00 82.39 L422.00 82.92 L423.00 83.45 L424.00 83.98 L425.00 84.51 L426.00 85.03 L427.00 85.56 L428.00 86.08 L429.00 86.60 L430.00 87.12 L431.00 87.64 L432.00 88.16 L433.00 88.68 L434.00 89.20 L435.00 89.72 L436.00 90.24 L437.00 90.76 L438.00 91.28 L439.00 91.80 L440.00 92.32 L441.00 92.84 L442.00 93.37 L443.00 93.89 L444.00 94.42 L445.00 94.95 L446.00 95.48 L447.00 96.02 L448.00 96.55 L449.00 97.09 L450.00 97.63 L451.00 98.18 L452.00 98.73 L453.00 99.28 L454.00 99.83 L455.00 100.39 L456.00 100.95 L457.00 101.52 L458.00 102.09 L459.00 102.66 L459.50 102.90 L460.50 103.19 L461.50 103.41 L462.50 103.62 L463.50 103.83 L464.50 104.03 L465.50 104.24 L466.50 104.44 L467.50 104.65 L468.50 104.85 L469.50 105.06 L470.50 105.27 L471.50 105.49 L472.50 105.71 L473.50 105.93 L474.50 106.16 L475.50 106.40 L476.50 106.65 L477.50 106.91 L478.50 107.17 L479.50 107.45 L480.50 107.74 L481.50 108.04 L482.50 108.36 L483.50 108.68 L484.50 109.03 L485.50 109.39 L486.50 109.77 L487.50 110.17 L488.50 110.58 L489.50 111.02 L490.50 111.47 L491.50 111.95 L492.50 112.45 L493.50 112.97 L494.50 113.52 L495.50 114.09 L496.50 114.69 L497.50 115.31 L498.50 115.97 L499.50 116.66 L500.50 117.38 L501.50 118.14 L502.50 118.93 L503.50 119.77 L504.50 120.64 L505.50 121.56 L506.50 122.52 L507.50 123.52 L508.50 124.57 L509.50 125.67 L510.50 126.81 L511.50 128.00 L512.50 129.23 L513.50 130.51 L514.50 131.83 L515.50 133.20 L516.50 134.62 L517.50 136.08 L518.50 137.58 L519.50 139.14 L520.50 140.73 L521.50 142.34 L522.50 143.94 L523.50 145.52 L524.50 147.03 L525.50 148.47 L526.50 149.80 L527.50 150.99 L528.50 152.04 L529.50 152.90 L530.50 153.57 L531.50 154.06 L532.50 154.40 L533.50 154.58 L534.50 154.64 L535.50 154.57 L536.50 154.41 L537.50 154.15 L538.50 153.82 L539.50 153.43 L540.50 152.99 L541.50 152.50 L542.50 151.96 L543.50 151.39 L544.50 150.78 L545.50 150.14 L546.50 149.47 L547.50 148.78 L548.50 148.08 L549.50 147.35 L550.50 146.62 L551.50 145.89 L552.50 145.15 L553.50 144.42 L554.50 143.69 L555.50 142.98 L556.50 142.28 L557.50 141.61 L558.50 140.96 L559.50 140.33 L560.50 139.75 L561.50 139.20 L562.50 138.69 L563.50 138.23 L564.50 137.82 L565.50 137.46 L566.50 137.14 L567.50 136.88 L568.50 136.66 L569.50 136.49 L570.50 136.36 L571.50 136.27 L572.50 136.23 L573.50 136.24 L574.50 136.28 L575.50 136.36 L576.50 136.49 L577.50 136.65 L578.50 136.85 L579.50 137.08 L580.50 137.36 L581.50 137.66 L582.50 138.01 L583.50 138.38 L584.50 138.79 L585.50 139.23 L586.50 139.70 L587.50 140.21 L588.50 140.75 L589.50 141.32 L590.50 141.93 L591.50 142.58 L592.50 143.27 L593.50 144.00 L594.50 144.78 L595.50 145.59 L596.50 146.45 L597.50 147.36 L598.50 148.31 L599.50 149.31 L600.50 150.35 L601.50 151.45 L602.50 152.60 L603.50 153.79 L604.50 155.03 L605.50 156.30 L606.50 157.61 L607.50 158.96 L608.50 160.37 L609.50 161.86 L610.50 163.43 L611.50 165.11 L612.50 166.88 L613.50 168.68 L614.50 170.46 L615.50 172.14 L616.50 173.68 L617.50 174.93 L618.50 175.75 L619.50 176.00 L620.50 175.72 L621.50 175.07 L622.50 174.22 L623.50 173.28 L624.50 172.28 L625.50 171.25 L626.50 170.21 L627.50 169.18 L628.50 168.19 L629.50 167.25 L630.50 166.38 L631.50 165.57 L632.50 164.82 L633.50 164.12 L634.50 163.48 L635.50 162.88 L636.50 162.34 L637.50 161.84 L638.50 161.37 L639.50 160.95 L640.50 160.56 L641.50 160.20 L642.50 159.87 L643.50 159.57 L644.50 159.29 L645.50 159.03 L646.50 158.78 L647.50 158.55 L648.50 158.33 L649.50 158.13 L650.50 157.95 L651.50 157.79 L652.50 157.65 L653.50 157.54 L654.50 157.45 L655.50 157.39 L656.50 157.36 L657.50 157.36 L658.50 157.40 L659.50 157.47 L660.50 157.59 L661.50 157.74 L662.50 157.94 L663.50 158.18 L664.50 158.46 L665.50 158.80 L666.50 159.18 L667.50 159.62 L668.50 160.11 L669.50 160.66 L670.50 161.27 L671.50 161.94 L672.50 162.67 L672.80 162.80" fill="none" stroke="#1424d4" stroke-width="2"/>
<path d="M264.6 318.4 H260.3 V528.4 H528.5 V524.3" fill="none" stroke="#737373" stroke-width="1.4"/>
<path d="M260.3 505.1 H264.6" stroke="#737373" stroke-width="1.0"/>
<path d="M260.3 481.7 H264.6" stroke="#737373" stroke-width="1.0"/>
<path d="M260.3 458.4 H264.6" stroke="#737373" stroke-width="1.0"/>
<path d="M260.3 435.1 H264.6" stroke="#737373" stroke-width="1.0"/>
<path d="M260.3 411.8 H264.6" stroke="#737373" stroke-width="1.0"/>
<path d="M260.3 388.4 H264.6" stroke="#737373" stroke-width="1.0"/>
<path d="M260.3 365.1 H264.6" stroke="#737373" stroke-width="1.0"/>
<path d="M260.3 341.8 H264.6" stroke="#737373" stroke-width="1.0"/>
<path d="M394.8 528.4 V524.3" stroke="#737373" stroke-width="1.2"/>
<text x="255.6" y="343.0" font-size="13" text-anchor="end" fill="#1e1e1e" >100</text>
<text x="255.6" y="389.6" font-size="13" text-anchor="end" fill="#1e1e1e" >1</text>
<text x="255.6" y="436.3" font-size="13" text-anchor="end" fill="#1e1e1e" >0.01</text>
<text x="255.6" y="482.9" font-size="13" text-anchor="end" fill="#1e1e1e" >0.0001</text>
<text x="255.8" y="529.0" font-size="13" text-anchor="end" fill="#1e1e1e">10<tspan font-size="9" dy="-7">-6</tspan></text>
<text x="260.5" y="539.8" font-size="13" text-anchor="middle" fill="#1e1e1e" >1</text>
<text x="394.5" y="539.8" font-size="13" text-anchor="middle" fill="#1e1e1e" >10</text>
<text x="528.5" y="539.8" font-size="13" text-anchor="middle" fill="#1e1e1e" >100</text>
<text x="394.0" y="560.9" font-size="13" text-anchor="middle" fill="#1e1e1e" >distance (mm)</text>
<text transform="translate(206.3 482.8) rotate(-90)" font-size="13.4" fill="#1e1e1e">power density (W/m<tspan font-size="8.5" dy="-5.5">2</tspan><tspan dy="5.5">)</tspan></text>
<path d="M260.5 334.2 L448.0 408.3 L512.0 439.5 L528.4 463.2" fill="none" stroke="#a0a0a0" stroke-width="1.6"/>
<path d="M265.1 428.4 L448.0 452.5 L488.2 475.5 L528.4 513.0" fill="none" stroke="#111" stroke-width="1.8" stroke-dasharray="6.6 3.8" stroke-linejoin="round"/>
<path d="M425.4 318.5 H442.5" stroke="#111" stroke-width="2" stroke-dasharray="6.5 4"/>
<path d="M420.7 329.4 H442.5" stroke="#a0a0a0" stroke-width="1.5"/>
<text x="446.0" y="323.2" font-size="12" text-anchor="start" fill="#1e1e1e" >below subst.</text>
<text x="446.0" y="334.6" font-size="12" text-anchor="start" fill="#b0b0b0" >above subst.</text>
<text x="542.8" y="327.6" font-size="13.5" text-anchor="start" fill="#1e1e1e" >c)</text>
</svg>
</body></html>
